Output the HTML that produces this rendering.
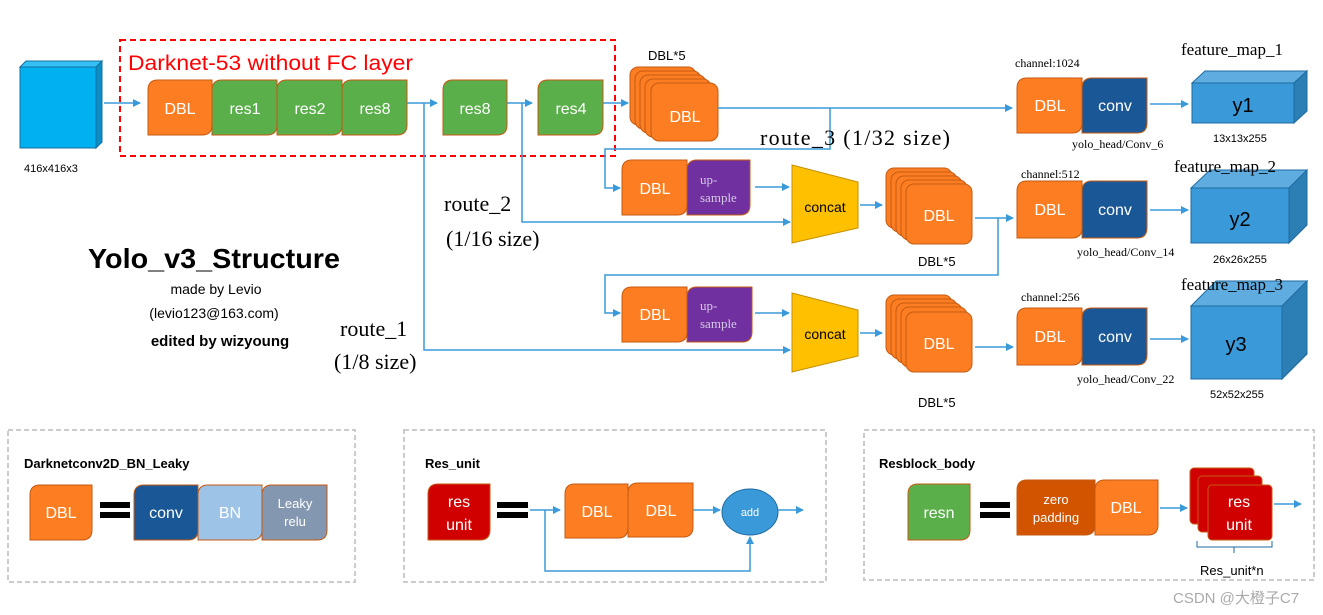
<!DOCTYPE html>
<html><head><meta charset="utf-8"><style>
html,body{margin:0;padding:0;background:#fff;}
svg{display:block;}
text{font-family:"Liberation Sans",sans-serif;}
.w{fill:#fff;font-size:16px;text-anchor:middle;}
.s{font-family:"Liberation Serif",serif;}
</style></head><body>
<svg width="1323" height="615" viewBox="0 0 1323 615" xmlns="http://www.w3.org/2000/svg">
<defs>
<marker id="a" markerWidth="8" markerHeight="8" refX="7" refY="4" orient="auto" markerUnits="userSpaceOnUse"><path d="M0,0 L8,4 L0,8 z" fill="#3a9ad9"/></marker>
</defs>
<polygon points="20,67 26,61 102,61 96,67" fill="#33c0f5" stroke="#1a6fa0"/>
<polygon points="96,67 102,61 102,142 96,148" fill="#0a8ec4" stroke="#1a6fa0"/>
<rect x="20" y="67" width="76" height="81" fill="#00b0f0" stroke="#1a6fa0"/>
<text x="24" y="172" font-size="11">416x416x3</text>
<rect x="120" y="40" width="495" height="116" fill="none" stroke="#f00" stroke-width="2" stroke-dasharray="6,4"/>
<text x="128" y="70" font-size="21" fill="#f00" textLength="285" lengthAdjust="spacingAndGlyphs">Darknet-53 without FC layer</text>
<g stroke="#c55a11" stroke-width="1">
<path d="M158,80 H212 V125 Q212,135 202,135 H148 V90 Q148,80 158,80z" fill="#fd7e22"/>
<path d="M222,80 H277 V125 Q277,135 267,135 H212 V90 Q212,80 222,80z" fill="#5aaf4b"/>
<path d="M287,80 H342 V125 Q342,135 332,135 H277 V90 Q277,80 287,80z" fill="#5aaf4b"/>
<path d="M352,80 H407 V125 Q407,135 397,135 H342 V90 Q342,80 352,80z" fill="#5aaf4b"/>
<path d="M453,80 H507 V125 Q507,135 497,135 H443 V90 Q443,80 453,80z" fill="#5aaf4b"/>
<path d="M548,80 H603 V125 Q603,135 593,135 H538 V90 Q538,80 548,80z" fill="#5aaf4b"/>
</g>
<text class="w" x="180" y="114">DBL</text><text class="w" x="245" y="114">res1</text><text class="w" x="310" y="114">res2</text><text class="w" x="375" y="114">res8</text><text class="w" x="475" y="114">res8</text><text class="w" x="571" y="114">res4</text>
<g stroke="#c55a11" fill="#fd7e22">
<rect x="630" y="67" width="66" height="58" rx="8"/><rect x="635" y="71" width="66" height="58" rx="8"/><rect x="640" y="75" width="66" height="58" rx="8"/><rect x="645" y="79" width="66" height="58" rx="8"/><rect x="651" y="83" width="67" height="58" rx="8"/>
<rect x="886" y="168" width="66" height="60" rx="8"/><rect x="891" y="172" width="66" height="60" rx="8"/><rect x="896" y="176" width="66" height="60" rx="8"/><rect x="901" y="180" width="66" height="60" rx="8"/><rect x="906" y="184" width="66" height="60" rx="8"/>
<rect x="886" y="295" width="66" height="60" rx="8"/><rect x="891" y="299" width="66" height="60" rx="8"/><rect x="896" y="303" width="66" height="60" rx="8"/><rect x="901" y="307" width="66" height="60" rx="8"/><rect x="906" y="312" width="66" height="60" rx="8"/>
</g>
<text class="w" x="685" y="122">DBL</text><text class="w" x="939" y="221">DBL</text><text class="w" x="939" y="349">DBL</text>
<text x="648" y="60" font-size="13">DBL*5</text><text x="918" y="266" font-size="13">DBL*5</text><text x="918" y="407" font-size="13">DBL*5</text>
<g stroke="#c55a11">
<path d="M632,160 H687 V205 Q687,215 677,215 H622 V170 Q622,160 632,160z" fill="#fd7e22"/>
<path d="M697,160 H750 V205 Q750,215 740,215 H687 V170 Q687,160 697,160z" fill="#7030a0"/>
<path d="M632,287 H687 V332 Q687,342 677,342 H622 V297 Q622,287 632,287z" fill="#fd7e22"/>
<path d="M697,287 H752 V332 Q752,342 742,342 H687 V297 Q687,287 697,287z" fill="#7030a0"/>
</g>
<text class="w" x="655" y="194">DBL</text><text class="w" x="655" y="320">DBL</text>
<text class="s" x="700" y="184" font-size="13" fill="#d8c8e8">up-</text><text class="s" x="700" y="202" font-size="13" fill="#d8c8e8">sample</text>
<text class="s" x="700" y="310" font-size="13" fill="#d8c8e8">up-</text><text class="s" x="700" y="328" font-size="13" fill="#d8c8e8">sample</text>
<polygon points="792,165 858,182 858,228 792,243" fill="#ffc000" stroke="#c59000"/>
<polygon points="792,293 858,310 858,356 792,372" fill="#ffc000" stroke="#c59000"/>
<text x="825" y="212" font-size="14" text-anchor="middle">concat</text><text x="825" y="339" font-size="14" text-anchor="middle">concat</text>
<g stroke="#c55a11">
<path d="M1027,78 H1082 V123 Q1082,133 1072,133 H1017 V88 Q1017,78 1027,78z" fill="#fd7e22"/>
<path d="M1092,78 H1147 V123 Q1147,133 1137,133 H1082 V88 Q1082,78 1092,78z" fill="#1a5796"/>
<path d="M1027,181 H1082 V228 Q1082,238 1072,238 H1017 V191 Q1017,181 1027,181z" fill="#fd7e22"/>
<path d="M1092,181 H1147 V228 Q1147,238 1137,238 H1082 V191 Q1082,181 1092,181z" fill="#1a5796"/>
<path d="M1027,308 H1082 V355 Q1082,365 1072,365 H1017 V318 Q1017,308 1027,308z" fill="#fd7e22"/>
<path d="M1092,308 H1147 V355 Q1147,365 1137,365 H1082 V318 Q1082,308 1092,308z" fill="#1a5796"/>
</g>
<text class="w" x="1050" y="111">DBL</text><text class="w" x="1115" y="111">conv</text>
<text class="w" x="1050" y="215">DBL</text><text class="w" x="1115" y="215">conv</text>
<text class="w" x="1050" y="342">DBL</text><text class="w" x="1115" y="342">conv</text>
<g class="s" font-size="12">
<text class="s" x="1015" y="67">channel:1024</text><text class="s" x="1021" y="178">channel:512</text><text class="s" x="1021" y="301">channel:256</text>
<text class="s" x="1072" y="148">yolo_head/Conv_6</text><text class="s" x="1077" y="256">yolo_head/Conv_14</text><text class="s" x="1077" y="383">yolo_head/Conv_22</text>
</g>
<g stroke="#1f6aa0">
<polygon points="1192,83 1205,71 1307,71 1294,83" fill="#5fade0"/><polygon points="1294,83 1307,71 1307,111 1294,123" fill="#2b7fb5"/><rect x="1192" y="83" width="102" height="40" fill="#3a9ad9"/>
<polygon points="1191,188 1210,170 1307,170 1289,188" fill="#5fade0"/><polygon points="1289,188 1307,170 1307,225 1289,243" fill="#2b7fb5"/><rect x="1191" y="188" width="98" height="55" fill="#3a9ad9"/>
<polygon points="1191,306 1216,281 1307,281 1282,306" fill="#5fade0"/><polygon points="1282,306 1307,281 1307,354 1282,379" fill="#2b7fb5"/><rect x="1191" y="306" width="91" height="73" fill="#3a9ad9"/>
</g>
<text x="1243" y="112" font-size="20" text-anchor="middle">y1</text><text x="1240" y="226" font-size="20" text-anchor="middle">y2</text><text x="1236" y="351" font-size="20" text-anchor="middle">y3</text>
<g class="s" font-size="17"><text class="s" x="1181" y="55">feature_map_1</text><text class="s" x="1174" y="172">feature_map_2</text><text class="s" x="1181" y="290">feature_map_3</text></g>
<text x="1213" y="142" font-size="11">13x13x255</text><text x="1213" y="263" font-size="11">26x26x255</text><text x="1210" y="398" font-size="11">52x52x255</text>
<g stroke="#3a9ad9" stroke-width="1.5" fill="none">
<path d="M104,103 H140" marker-end="url(#a)"/>
<path d="M407,103 H437" marker-end="url(#a)"/>
<path d="M507,103 H532" marker-end="url(#a)"/>
<path d="M603,103 H628" marker-end="url(#a)"/>
<path d="M424,103 V350 H790" marker-end="url(#a)"/>
<path d="M522,103 V222 H790" marker-end="url(#a)"/>
<path d="M718,108 H1012" marker-end="url(#a)"/>
<path d="M830,108 V149 H605 V188 H620" marker-end="url(#a)"/>
<path d="M755,187 H789" marker-end="url(#a)"/>
<path d="M860,205 H882" marker-end="url(#a)"/>
<path d="M975,218 H1013" marker-end="url(#a)"/>
<path d="M998,218 V275 H605 V313 H620" marker-end="url(#a)"/>
<path d="M755,313 H789" marker-end="url(#a)"/>
<path d="M860,333 H882" marker-end="url(#a)"/>
<path d="M975,347 H1013" marker-end="url(#a)"/>
<path d="M1150,104 H1188" marker-end="url(#a)"/>
<path d="M1150,210 H1188" marker-end="url(#a)"/>
<path d="M1150,339 H1188" marker-end="url(#a)"/>
</g>
<g class="s" font-size="22">
<text class="s" x="760" y="145" textLength="190" lengthAdjust="spacing">route_3  (1/32 size)</text>
<text class="s" x="444" y="211">route_2</text><text class="s" x="446" y="246">(1/16 size)</text>
<text class="s" x="340" y="336">route_1</text><text class="s" x="334" y="369">(1/8 size)</text>
</g>
<text x="214" y="268" font-size="28" font-weight="bold" text-anchor="middle" textLength="252" lengthAdjust="spacingAndGlyphs">Yolo_v3_Structure</text>
<text x="216" y="294" font-size="14" text-anchor="middle">made by Levio</text>
<text x="214" y="318" font-size="14" text-anchor="middle">(levio123@163.com)</text>
<text x="220" y="346" font-size="15" font-weight="bold" text-anchor="middle">edited by wizyoung</text>
<g fill="none" stroke="#ccc" stroke-width="2" stroke-dasharray="5,3">
<rect x="8" y="430" width="347" height="152"/><rect x="404" y="430" width="422" height="152"/><rect x="864" y="430" width="450" height="150"/>
</g>
<g font-size="13" font-weight="bold"><text x="24" y="468">Darknetconv2D_BN_Leaky</text><text x="425" y="468">Res_unit</text><text x="879" y="468">Resblock_body</text></g>
<g stroke="#c55a11">
<path d="M40,485 H92 V530 Q92,540 82,540 H30 V495 Q30,485 40,485z" fill="#fd7e22"/>
<path d="M144,485 H198 V530 Q198,540 188,540 H134 V495 Q134,485 144,485z" fill="#1a5796"/>
<path d="M208,485 H262 V530 Q262,540 252,540 H198 V495 Q198,485 208,485z" fill="#9dc3e6"/>
<path d="M272,485 H327 V530 Q327,540 317,540 H262 V495 Q262,485 272,485z" fill="#8497b0"/>
<path d="M438,484 H490 V530 Q490,540 480,540 H428 V494 Q428,484 438,484z" fill="#d00000"/>
<path d="M575,484 H628 V528 Q628,538 618,538 H565 V494 Q565,484 575,484z" fill="#fd7e22"/>
<path d="M638,483 H693 V527 Q693,537 683,537 H628 V493 Q628,483 638,483z" fill="#fd7e22"/>
<path d="M918,484 H970 V530 Q970,540 960,540 H908 V494 Q908,484 918,484z" fill="#5aaf4b"/>
<path d="M1027,480 H1095 V525 Q1095,535 1085,535 H1017 V490 Q1017,480 1027,480z" fill="#d35400"/>
<path d="M1105,480 H1158 V525 Q1158,535 1148,535 H1095 V490 Q1095,480 1105,480z" fill="#fd7e22"/>
<rect x="1190" y="468" width="64" height="56" rx="4" fill="#d00000"/>
<rect x="1198" y="476" width="64" height="56" rx="4" fill="#d00000"/>
<rect x="1208" y="485" width="64" height="55" rx="4" fill="#d00000"/>
</g>
<g fill="#000"><rect x="100" y="502" width="30" height="6"/><rect x="100" y="512" width="30" height="6"/>
<rect x="497" y="502" width="31" height="6"/><rect x="497" y="512" width="31" height="6"/>
<rect x="980" y="502" width="30" height="6"/><rect x="980" y="512" width="30" height="6"/></g>
<text class="w" x="61" y="518">DBL</text><text class="w" x="166" y="518">conv</text><text class="w" x="230" y="518">BN</text>
<text class="w" x="295" y="508" style="font-size:13px">Leaky</text><text class="w" x="295" y="526" style="font-size:13px">relu</text>
<text class="w" x="459" y="507">res</text><text class="w" x="459" y="530">unit</text>
<text class="w" x="597" y="517">DBL</text><text class="w" x="661" y="516">DBL</text>
<text class="w" x="939" y="518">resn</text>
<text class="w" x="1056" y="504" style="font-size:13px">zero</text><text class="w" x="1056" y="522" style="font-size:13px">padding</text>
<text class="w" x="1126" y="513">DBL</text>
<text class="w" x="1239" y="507">res</text><text class="w" x="1239" y="530">unit</text>
<ellipse cx="750" cy="512" rx="28" ry="23" fill="#3a9ad9" stroke="#1f6aa0"/>
<text x="750" y="516" font-size="11" fill="#fff" text-anchor="middle">add</text>
<g stroke="#3a9ad9" stroke-width="1.5" fill="none">
<path d="M530,510 H560" marker-end="url(#a)"/>
<path d="M693,510 H720" marker-end="url(#a)"/>
<path d="M778,510 H803" marker-end="url(#a)"/>
<path d="M545,510 V571 H750 V537" marker-end="url(#a)"/>
<path d="M1160,508 H1187" marker-end="url(#a)"/>
<path d="M1274,504 H1301" marker-end="url(#a)"/>
<path d="M1197,541 V547 H1234 V553 M1234,547 H1272 V541" stroke="#1f6aa0" stroke-width="1"/>
</g>
<text x="1200" y="575" font-size="13">Res_unit*n</text>
<text x="1173" y="603" font-size="15" fill="#aaa" style="font-family:'Liberation Sans','Noto Sans CJK SC',sans-serif">CSDN @大橙子C7</text>
</svg>
</body></html>
